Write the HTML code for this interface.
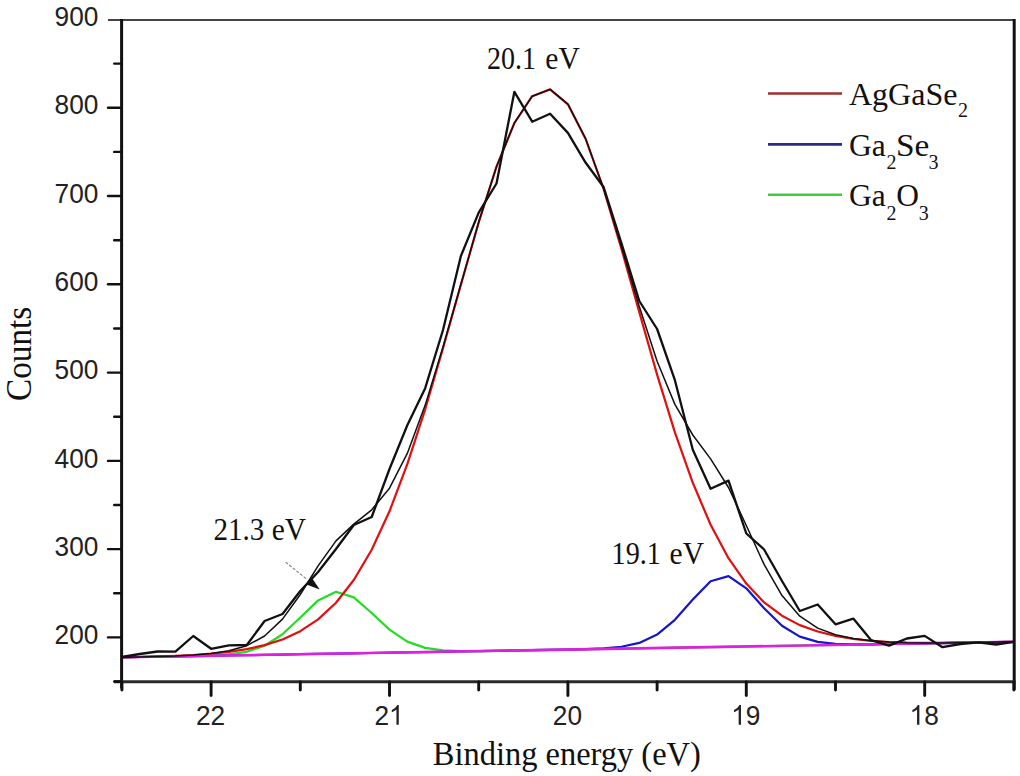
<!DOCTYPE html>
<html><head><meta charset="utf-8"><style>
html,body{margin:0;padding:0;background:#fff;}
svg{display:block;}
.tl{font-family:"Liberation Sans",sans-serif;font-size:27.5px;fill:#222;}
.sr{font-family:"Liberation Serif",serif;fill:#111;}
.tk{stroke:#111;stroke-width:2.4;stroke-linecap:round;}
</style></head><body>
<svg width="1020" height="776" viewBox="0 0 1020 776">
<rect width="1020" height="776" fill="#fff"/>
<!-- curves -->
<polyline points="121.9,657.3 139.7,657.0 157.6,656.7 175.4,656.4 193.3,656.1 211.1,655.5 228.9,654.4 246.8,651.8 264.6,645.7 282.5,634.2 300.3,617.5 318.1,600.4 336.0,591.8 353.8,597.4 371.7,613.0 389.5,629.6 407.3,641.6 425.2,647.9 443.0,650.4 460.9,651.1 478.7,651.1 496.5,650.8 514.4,650.5 532.2,650.2 550.1,649.9 567.9,649.6 585.7,649.3 603.6,649.0 621.4,648.6 639.3,648.3 657.1,648.0 674.9,647.7 692.8,647.4 710.6,647.1 728.5,646.8 746.3,646.5 764.1,646.2 782.0,645.9 799.8,645.5 817.7,645.2 835.5,644.9 853.3,644.6 871.2,644.3 889.0,644.0 906.9,643.7 924.7,643.4 942.5,643.1 960.4,642.7 978.2,642.4 996.1,642.1 1013.9,641.8" fill="none" stroke="#22dd22" stroke-width="2.2" stroke-linejoin="round"/>
<polyline points="121.9,657.3 139.7,657.0 157.6,656.7 175.4,656.4 193.3,656.1 211.1,655.8 228.9,655.5 246.8,655.2 264.6,654.9 282.5,654.6 300.3,654.2 318.1,653.9 336.0,653.6 353.8,653.3 371.7,653.0 389.5,652.7 407.3,652.4 425.2,652.1 443.0,651.8 460.9,651.4 478.7,651.1 496.5,650.8 514.4,650.5 532.2,650.2 550.1,649.9 567.9,649.6 585.7,649.2 603.6,648.4 621.4,646.8 639.3,642.9 657.1,634.6 674.9,619.8 692.8,599.6 710.6,581.2 728.5,576.1 746.3,588.3 764.1,608.2 782.0,625.7 799.8,636.6 817.7,641.9 835.5,643.8 853.3,644.3 871.2,644.3 889.0,644.0 906.9,643.7 924.7,643.4 942.5,643.1 960.4,642.7 978.2,642.4 996.1,642.1 1013.9,641.8" fill="none" stroke="#1515cc" stroke-width="2.2" stroke-linejoin="round"/>
<polyline points="121.9,657.3 139.7,657.0 157.6,656.5 175.4,655.9 193.3,655.0 211.1,653.7 228.9,651.8 246.8,649.1 264.6,645.1 282.5,639.5 300.3,631.2 318.1,619.4 336.0,602.8 353.8,580.0 371.7,549.8 389.5,511.3 407.3,464.2 425.2,409.3 443.0,348.3 460.9,284.6 478.7,222.4 496.5,166.7 514.4,123.0 532.2,96.2 550.1,89.4 567.9,104.3 585.7,139.0 603.6,189.0 621.4,248.6 639.3,312.1 657.1,374.6 674.9,432.4 692.8,482.8 710.6,524.8 728.5,558.2 746.3,583.6 764.1,602.4 782.0,615.7 799.8,625.1 817.7,631.5 835.5,635.9 853.3,638.8 871.2,640.8 889.0,642.0 906.9,642.7 924.7,642.9 942.5,642.9 960.4,642.7 978.2,642.4 996.1,642.1 1013.9,641.8" fill="none" stroke="#e01010" stroke-width="2.2" stroke-linejoin="round"/>
<polyline points="121.9,657.3 1013.9,641.8" fill="none" stroke="#e020e0" stroke-width="2.6"/>
<polyline points="121.9,657.3 139.7,657.0 157.6,656.5 175.4,655.9 193.3,654.9 211.1,653.4 228.9,650.7 246.8,645.7 264.6,636.0 282.5,619.1 300.3,594.5 318.1,565.9 336.0,540.9 353.8,524.1 371.7,509.8 389.5,488.2 407.3,453.4 425.2,405.1 443.0,347.0 460.9,284.3 478.7,222.3 496.5,166.7 514.4,123.0 532.2,96.2 550.1,89.4 567.9,104.2 585.7,138.9 603.6,188.4 621.4,246.7 639.3,306.6 657.1,361.2 674.9,404.4 692.8,435.0 710.6,458.9 728.5,487.5 746.3,525.5 764.1,564.4 782.0,595.6 799.8,616.2 817.7,628.1 835.5,634.8 853.3,638.6 871.2,640.7 889.0,642.0 906.9,642.7 924.7,642.9 942.5,642.9 960.4,642.7 978.2,642.4 996.1,642.1 1013.9,641.8" fill="none" stroke="#111" stroke-width="1.5" stroke-linejoin="round"/>
<polyline points="121.9,657.0 139.7,654.0 157.6,651.5 175.4,651.7 193.3,636.0 211.1,648.8 228.9,645.3 246.8,645.0 264.6,621.0 282.5,614.0 300.3,591.0 318.1,572.0 336.0,549.0 353.8,525.0 371.7,517.0 389.5,469.0 407.3,425.3 425.2,388.2 443.0,330.0 460.9,256.0 478.7,212.6 496.5,183.5 514.4,91.8 532.2,121.7 550.1,113.7 567.9,132.9 585.7,162.8 603.6,187.0 621.4,243.0 639.3,301.0 657.1,329.0 674.9,380.2 692.8,449.8 710.6,488.8 728.5,480.6 746.3,533.5 764.1,549.5 782.0,581.0 799.8,611.0 817.7,604.5 835.5,624.3 853.3,618.6 871.2,640.2 889.0,645.6 906.9,638.5 924.7,635.9 942.5,647.2 960.4,644.0 978.2,642.4 996.1,644.5 1013.9,641.8" fill="none" stroke="#111" stroke-width="2.3" stroke-linejoin="round"/>
<!-- arrow -->
<line x1="285.7" y1="562.2" x2="306" y2="578.6" stroke="#888" stroke-width="1.2" stroke-dasharray="3,1.6"/>
<polygon points="319.7,589.5 305.9,584.3 311.5,577.3" fill="#111"/>
<!-- frame -->
<line x1="108" y1="20" x2="1015" y2="20" stroke="#444" stroke-width="2"/>
<line x1="1014.2" y1="19" x2="1014.2" y2="690" stroke="#111" stroke-width="3"/>
<line x1="121.6" y1="19" x2="121.6" y2="688.5" stroke="#111" stroke-width="3"/>
<line x1="114" y1="681.8" x2="1015.5" y2="681.8" stroke="#2a2a2a" stroke-width="3"/>
<line x1="114.2" y1="681.5" x2="121" y2="681.5" class="tk"/><line x1="108.0" y1="637.4" x2="121" y2="637.4" class="tk"/><line x1="114.2" y1="593.3" x2="121" y2="593.3" class="tk"/><line x1="108.0" y1="549.1" x2="121" y2="549.1" class="tk"/><line x1="114.2" y1="505.0" x2="121" y2="505.0" class="tk"/><line x1="108.0" y1="460.9" x2="121" y2="460.9" class="tk"/><line x1="114.2" y1="416.7" x2="121" y2="416.7" class="tk"/><line x1="108.0" y1="372.6" x2="121" y2="372.6" class="tk"/><line x1="114.2" y1="328.5" x2="121" y2="328.5" class="tk"/><line x1="108.0" y1="284.3" x2="121" y2="284.3" class="tk"/><line x1="114.2" y1="240.2" x2="121" y2="240.2" class="tk"/><line x1="108.0" y1="196.0" x2="121" y2="196.0" class="tk"/><line x1="114.2" y1="151.9" x2="121" y2="151.9" class="tk"/><line x1="108.0" y1="107.8" x2="121" y2="107.8" class="tk"/><line x1="114.2" y1="63.6" x2="121" y2="63.6" class="tk"/><line x1="121.9" y1="682" x2="121.9" y2="690.0" class="tk" style="stroke-width:2.9"/><line x1="211.1" y1="682" x2="211.1" y2="695.5" class="tk" style="stroke-width:2.9"/><line x1="300.3" y1="682" x2="300.3" y2="690.0" class="tk" style="stroke-width:2.9"/><line x1="389.5" y1="682" x2="389.5" y2="695.5" class="tk" style="stroke-width:2.9"/><line x1="478.7" y1="682" x2="478.7" y2="690.0" class="tk" style="stroke-width:2.9"/><line x1="567.9" y1="682" x2="567.9" y2="695.5" class="tk" style="stroke-width:2.9"/><line x1="657.1" y1="682" x2="657.1" y2="690.0" class="tk" style="stroke-width:2.9"/><line x1="746.3" y1="682" x2="746.3" y2="695.5" class="tk" style="stroke-width:2.9"/><line x1="835.5" y1="682" x2="835.5" y2="690.0" class="tk" style="stroke-width:2.9"/><line x1="924.7" y1="682" x2="924.7" y2="695.5" class="tk" style="stroke-width:2.9"/><line x1="1013.9" y1="682" x2="1013.9" y2="690.0" class="tk" style="stroke-width:2.9"/>
<text transform="translate(98.4,644.0) scale(0.955,1)" class="tl" text-anchor="end">200</text><text transform="translate(98.4,555.7) scale(0.955,1)" class="tl" text-anchor="end">300</text><text transform="translate(98.4,467.5) scale(0.955,1)" class="tl" text-anchor="end">400</text><text transform="translate(98.4,379.2) scale(0.955,1)" class="tl" text-anchor="end">500</text><text transform="translate(98.4,290.9) scale(0.955,1)" class="tl" text-anchor="end">600</text><text transform="translate(98.4,202.6) scale(0.955,1)" class="tl" text-anchor="end">700</text><text transform="translate(98.4,114.4) scale(0.955,1)" class="tl" text-anchor="end">800</text><text transform="translate(98.4,26.1) scale(0.955,1)" class="tl" text-anchor="end">900</text>
<text transform="translate(196.00,724.80) scale(0.955,1)" class="tl">2</text><text transform="translate(210.60,724.80) scale(0.955,1)" class="tl">2</text><text transform="translate(374.40,724.80) scale(0.955,1)" class="tl">2</text><path transform="translate(389.00,724.80) scale(26.262,-27.500)" d="M0.372,0 L0.284,0 L0.284,0.560 C0.263,0.540 0.235,0.519 0.200,0.499 C0.165,0.478 0.134,0.463 0.106,0.452 L0.106,0.537 C0.155,0.560 0.199,0.588 0.236,0.621 C0.273,0.654 0.299,0.686 0.315,0.716 L0.372,0.716 Z" fill="#222"/><text transform="translate(552.80,724.80) scale(0.955,1)" class="tl">2</text><text transform="translate(567.40,724.80) scale(0.955,1)" class="tl">0</text><path transform="translate(731.20,724.80) scale(26.262,-27.500)" d="M0.372,0 L0.284,0 L0.284,0.560 C0.263,0.540 0.235,0.519 0.200,0.499 C0.165,0.478 0.134,0.463 0.106,0.452 L0.106,0.537 C0.155,0.560 0.199,0.588 0.236,0.621 C0.273,0.654 0.299,0.686 0.315,0.716 L0.372,0.716 Z" fill="#222"/><text transform="translate(745.80,724.80) scale(0.955,1)" class="tl">9</text><path transform="translate(909.60,724.80) scale(26.262,-27.500)" d="M0.372,0 L0.284,0 L0.284,0.560 C0.263,0.540 0.235,0.519 0.200,0.499 C0.165,0.478 0.134,0.463 0.106,0.452 L0.106,0.537 C0.155,0.560 0.199,0.588 0.236,0.621 C0.273,0.654 0.299,0.686 0.315,0.716 L0.372,0.716 Z" fill="#222"/><text transform="translate(924.20,724.80) scale(0.955,1)" class="tl">8</text>
<!-- axis titles -->
<text transform="translate(566.8,765.0) scale(1.015,1.07)" class="sr" font-size="32" text-anchor="middle">Binding energy (eV)</text>
<text transform="translate(30.6,353.9) rotate(-90) scale(1.04,1.15)" class="sr" font-size="32" text-anchor="middle">Counts</text>
<!-- annotations -->
<text transform="translate(486.9,69.3) scale(0.95,1.08)" class="sr" font-size="29.5">20.1</text>
<text transform="translate(545.3,69.3) scale(1,1.08)" class="sr" font-size="29.5">eV</text>
<text transform="translate(213.4,540) scale(0.985,1.08)" class="sr" font-size="29.5">21.3</text>
<text transform="translate(271.7,540) scale(1,1.08)" class="sr" font-size="29.5">eV</text>
<text transform="translate(611.6,564.1) scale(0.955,1.08)" class="sr" font-size="29.5">19.1</text>
<text transform="translate(669.6,564.1) scale(1,1.08)" class="sr" font-size="29.5">eV</text>
<!-- legend -->
<line x1="768" y1="93.5" x2="842" y2="93.5" stroke="#a03030" stroke-width="2.6"/>
<line x1="768" y1="144.4" x2="842" y2="144.4" stroke="#2a2a80" stroke-width="2.6"/>
<line x1="768" y1="194.7" x2="842" y2="194.7" stroke="#40cc40" stroke-width="2.6"/>
<text x="849" y="104.5" class="sr" font-size="32">AgGaSe</text>
<text x="958" y="117.1" class="sr" font-size="20">2</text>
<text x="849" y="155.9" class="sr" font-size="31.5">Ga</text>
<text x="886.6" y="168.8" class="sr" font-size="20">2</text>
<text transform="translate(896,155.9) scale(1.06,1)" class="sr" font-size="31.5">Se</text>
<text x="928.6" y="168.8" class="sr" font-size="20">3</text>
<text x="849" y="206.2" class="sr" font-size="31.5">Ga</text>
<text x="886.6" y="219.7" class="sr" font-size="20">2</text>
<text x="896.3" y="206.2" class="sr" font-size="31.5">O</text>
<text x="918.8" y="219.7" class="sr" font-size="20">3</text>
</svg>
</body></html>
